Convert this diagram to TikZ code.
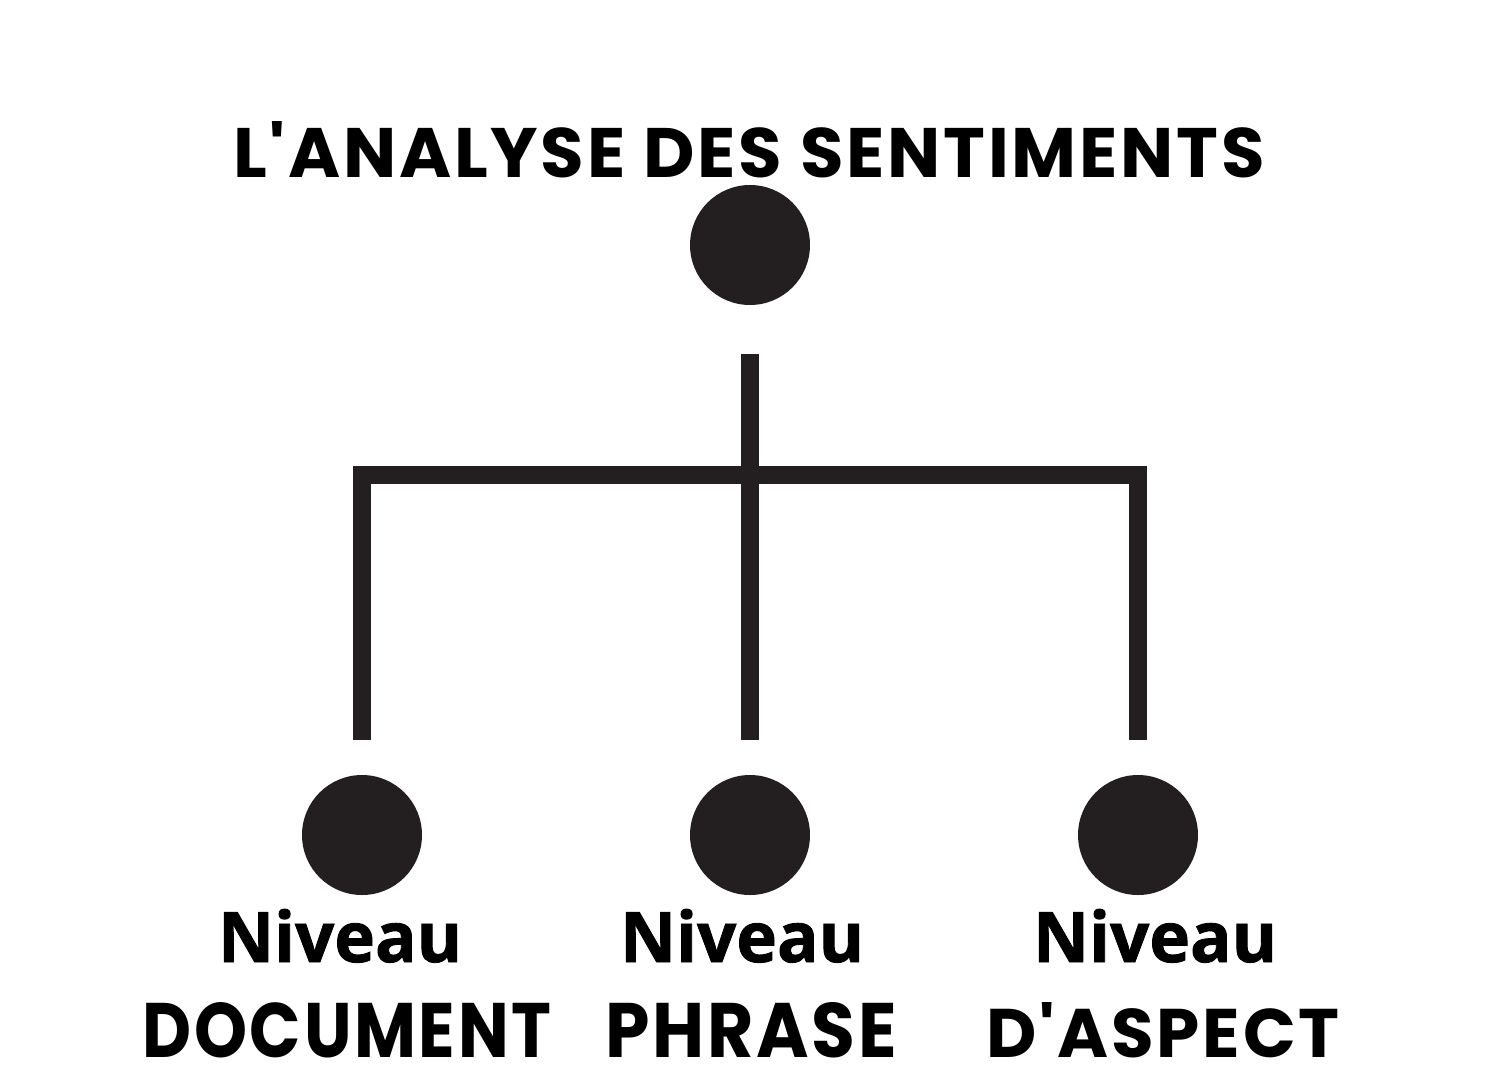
\documentclass[tikz,border=0pt]{standalone}
\usepackage{fontspec}
\setmainfont{Poppins}
\newfontfamily\titlefont[LetterSpace=4]{Poppins}
\newfontfamily\labelfont[BoldFeatures={FakeBold=1.2}]{Open Sans}
\definecolor{ink}{HTML}{231F20}
\newcommand{\fitto}[3]{\resizebox{#1pt}{#2pt}{#3}}
\begin{document}
\begin{tikzpicture}[x=1pt,y=-1pt,
  dot/.style={circle,fill=ink,minimum size=120pt,inner sep=0pt},
  bar/.style={draw=ink,line width=18pt,line join=miter},
  ttl/.style={anchor=base,inner sep=0pt,font=\titlefont\bfseries\fontsize{80}{80}\selectfont},
  lvl/.style={anchor=base,inner sep=0pt,font=\labelfont\bfseries\fontsize{67}{67}\selectfont},
  kind/.style={anchor=base,inner sep=0pt,font=\titlefont\bfseries\fontsize{77}{77}\selectfont}]
\useasboundingbox (0,0) rectangle (1500,1080);
\node[ttl] (title) at (749,177) {\fitto{1032}{56}{L'ANALYSE DES SENTIMENTS}};
\node[dot] (top) at (750,245) {};
\node[dot] (c1) at (362,835) {};
\node[dot] (c2) at (750,835) {};
\node[dot] (c3) at (1138,835) {};
\coordinate (s) at ([yshift=-49pt]top.south);
\coordinate (e1) at ([yshift=35pt]c1.north);
\coordinate (e2) at ([yshift=35pt]c2.north);
\coordinate (e3) at ([yshift=35pt]c3.north);
\coordinate (j) at (750,475);
\draw[bar] (s) -- (e2);
\draw[bar] (e1) -- (e1 |- j) -- (e3 |- j) -- (e3);
\node[lvl] (n1) at (340,962) {\fitto{244}{53}{Niveau}};
\node[lvl] (n2) at (742,962) {\fitto{244}{53}{Niveau}};
\node[lvl] (n3) at (1155,962) {\fitto{244}{53}{Niveau}};
\node[kind] (k1) at (347,1057) {\fitto{409}{55}{DOCUMENT}};
\node[kind] (k2) at (751,1057) {\fitto{292}{55}{PHRASE}};
\node[kind] (k3) at (1163,1057) {\fitto{353}{55}{D'ASPECT}};
\end{tikzpicture}
\end{document}
